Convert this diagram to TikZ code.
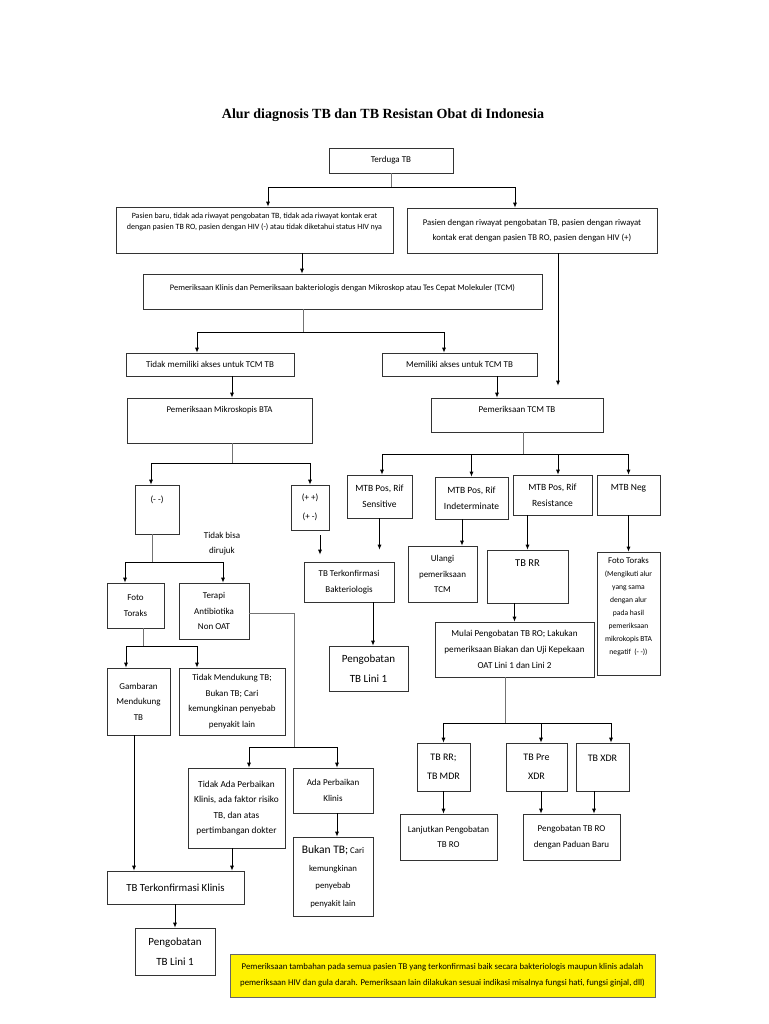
\documentclass[tikz,border=0pt]{standalone}
\usepackage{fontspec}
\setmainfont{Carlito}
\newfontfamily\titlefont{Liberation Serif}
\usetikzlibrary{arrows.meta,positioning}

\tikzset{
  box/.style={draw=black!80,line width=0.6pt,inner sep=1pt,align=center,
    font=\fontsize{9}{15.5}\selectfont},
  sz/.style 2 args={minimum width=#1pt,minimum height=#2pt},
  toptext/.style={anchor=base,yshift=-#1pt,inner sep=0pt,align=center},
  big/.style={font=\fontsize{11}{20}\selectfont},
  mtb/.style={font=\fontsize{9.5}{16}\selectfont},
  stem/.style={draw=black!55,line width=0.6pt},
  arr/.style={draw=black,line width=0.9pt,-{Latex[length=5pt,width=4pt]}},
}

\begin{document}
\begin{tikzpicture}[x=1pt,y=-1pt]
  \fill[white] (0,0) rectangle (768,1024);
  \useasboundingbox (0,0) rectangle (768,1024);

  \node[font=\titlefont\bfseries\fontsize{14}{16}\selectfont] (title) at (383,115)
    {Alur diagnosis TB dan TB Resistan Obat di Indonesia};

  % top part
  \node[box,sz={124}{25}] (terduga) at (391,160.5) {Terduga TB};
  \node[box,sz={277}{46},label={[toptext=23,font=\fontsize{8}{11}\selectfont]north:Pasien baru, tidak ada riwayat pengobatan TB, tidak ada riwayat kontak erat\\dengan pasien TB RO, pasien dengan HIV (-) atau tidak diketahui status HIV nya}] (baru) at (254.5,230) {};
  \node[box,sz={250}{45},font=\fontsize{8.75}{15}\selectfont] (riwayat) at (532,230.5)
    {Pasien dengan riwayat pengobatan TB, pasien dengan riwayat\\kontak erat dengan pasien TB RO, pasien dengan HIV (+)};
  \node[box,sz={399}{35},label={[toptext=17,font=\fontsize{8.4}{10}\selectfont]north:Pemeriksaan Klinis dan Pemeriksaan bakteriologis dengan Mikroskop atau Tes Cepat Molekuler (TCM)}] (klinis) at (342.5,291.5) {};
  \node[box,sz={168}{23}] (tidakakses) at (210,364.5) {Tidak memiliki akses untuk TCM TB};
  \node[box,sz={155}{23}] (akses) at (459.5,364.5) {Memiliki akses untuk TCM TB};
  \node[box,sz={185}{45},label={[toptext=15,font=\fontsize{8.8}{10}\selectfont]north:Pemeriksaan Mikroskopis BTA}] (mikro) at (219.5,420.5) {};
  \node[box,sz={172}{34},label={[toptext=15,font=\fontsize{9}{10}\selectfont]north:Pemeriksaan TCM TB}] (tcm) at (517,415) {};

  % TCM results
  \node[box,mtb,sz={65}{43}] (sens) at (379.5,496.5) {MTB Pos, Rif\\Sensitive};
  \node[box,mtb,sz={73}{42}] (indet) at (471.5,498) {MTB Pos, Rif\\Indeterminate};
  \node[box,mtb,sz={79}{40}] (resist) at (552.5,495) {MTB Pos, Rif\\Resistance};
  \node[box,sz={63}{40},label={[toptext=16,font=\fontsize{9.5}{10}\selectfont]north:MTB Neg}] (neg) at (628.5,495) {};
  \node[box,sz={69}{56}] (ulangi) at (442.5,574) {Ulangi\\pemeriksaan\\TCM};
  \node[box,sz={81}{53},label={[toptext=17,font=\fontsize{10.5}{12}\selectfont]north:TB RR}] (tbrr) at (527.5,576.5) {};
  \node[box,sz={159}{55},font=\fontsize{9.1}{16}\selectfont] (mulai) at (514.5,649.5)
    {Mulai Pengobatan TB RO; Lakukan\\pemeriksaan Biakan dan Uji Kepekaan\\OAT Lini 1 dan Lini 2};
  \node[box,sz={63}{123},label={[anchor=north,yshift=-5pt,inner sep=0pt,align=center,font=\fontsize{7.6}{13}\selectfont]north:{\fontsize{8.8}{13}\selectfont Foto Toraks}\\(Mengikuti alur\\yang sama\\dengan alur\\pada hasil\\pemeriksaan\\mikrokopis BTA\\negatif~~(- -))}] (fotoR) at (628.5,613.5) {};
  \node[box,sz={53}{48},font=\fontsize{10}{19}\selectfont] (mdr) at (443.5,767) {TB RR;\\TB MDR};
  \node[box,sz={61}{48},font=\fontsize{10}{19}\selectfont] (prexdr) at (536.5,767) {TB Pre\\XDR};
  \node[box,sz={53}{48},label={[toptext=19,font=\fontsize{10}{12}\selectfont]north:TB XDR}] (xdr) at (602.5,767) {};
  \node[box,sz={97}{46}] (lanjut) at (448.5,837) {Lanjutkan Pengobatan\\TB RO};
  \node[box,sz={97}{46}] (paduan) at (571.5,837) {Pengobatan TB RO\\dengan Paduan Baru};

  % BTA results
  \node[box,sz={44}{49},label={[toptext=18,font=\fontsize{9}{10}\selectfont]north:(- -)}] (minus) at (157,509.5) {};
  \node[box,sz={38}{45},font=\fontsize{9}{19}\selectfont] (plus) at (310,507.5) {(+ +)\\(+ -)};
  \node[box,sz={90}{40}] (bakt) at (349,582) {TB Terkonfirmasi\\Bakteriologis};
  \node[box,big,sz={79}{45}] (lini1R) at (368.5,668.5) {Pengobatan\\TB Lini 1};
  \node[align=center,font=\fontsize{9}{15}\selectfont] (rujuk) at (222,543.5) {Tidak bisa\\dirujuk};
  \node[box,sz={57}{45}] (fotoL) at (135.5,605.5) {Foto\\Toraks};
  \node[box,sz={70}{56}] (terapi) at (214,611) {Terapi\\Antibiotika\\Non OAT};
  \node[box,sz={63}{67}] (gamb) at (138.5,701.5) {Gambaran\\Mendukung\\TB};
  \node[box,sz={106}{67}] (tidakmend) at (232,701.5) {Tidak Mendukung TB;\\Bukan TB; Cari\\kemungkinan penyebab\\penyakit lain};
  \node[box,sz={97}{80},font=\fontsize{9.3}{15.5}\selectfont] (tidakada) at (236.5,808) {Tidak Ada Perbaikan\\Klinis, ada faktor risiko\\TB, dan atas\\pertimbangan dokter};
  \node[box,sz={80}{45}] (adaperb) at (333,790.5) {Ada Perbaikan\\Klinis};
  \node[box,sz={80}{79},font=\fontsize{8.8}{17.5}\selectfont] (bukan) at (333,876.5) {{\fontsize{11.5}{17.5}\selectfont Bukan TB;} Cari\\kemungkinan\\penyebab\\penyakit lain};
  \node[box,sz={137}{33},font=\fontsize{10.8}{12}\selectfont] (klinisTB) at (175.5,887.5) {TB Terkonfirmasi Klinis};
  \node[box,big,sz={80}{47}] (lini1L) at (175,951.5) {Pengobatan\\TB Lini 1};

  \node[box,sz={425}{43},fill=yellow,draw=black!60,font=\fontsize{8.8}{16}\selectfont] (note) at (442.5,975.5)
    {Pemeriksaan tambahan pada semua pasien TB yang terkonfirmasi baik secara bakteriologis maupun klinis adalah\\pemeriksaan HIV dan gula darah. Pemeriksaan lain dilakukan sesuai indikasi misalnya fungsi hati, fungsi ginjal, dll)};

  % connectors, top
  \draw[stem] (terduga.south) -- ++(0,14) coordinate (t1);
  \draw[arr] (t1) -| ([xshift=13.5pt]baru.north);
  \draw[arr] (t1) -| ([xshift=-17pt]riwayat.north);
  \draw[arr] ([xshift=47.5pt]baru.south) -- ([xshift=47.5pt]baru.south |- klinis.north);
  \draw[arr,shorten >=12pt] ([xshift=26pt]riwayat.south) -- ([xshift=26pt]riwayat.south |- tcm.north);
  \draw[stem] ([xshift=-39.5pt]klinis.south) -- ++(0,23) coordinate (k1);
  \draw[arr] (k1) -| ([xshift=-13pt]tidakakses.north);
  \draw[arr] (k1) -| ([xshift=-15.5pt]akses.north);
  \draw[arr] ([xshift=22pt]tidakakses.south) -- ([xshift=22pt]tidakakses.south |- mikro.north);
  \draw[arr] ([xshift=37.5pt]akses.south) -- ([xshift=37.5pt]akses.south |- tcm.north);

  % TCM branch
  \draw[stem] ([xshift=6pt]tcm.south) -- ++(0,22) coordinate (c1);
  \draw[arr] (c1) -| ([xshift=2.5pt]sens.north);
  \draw[arr] (c1) -| (indet.north);
  \draw[arr] (c1) -| ([xshift=5.5pt]resist.north);
  \draw[arr] (c1) -| (neg.north);
  \draw[arr,shorten >=12pt] (sens.south) -- (sens.south |- bakt.north);
  \draw[arr] ([xshift=-9.5pt]indet.south) -- ([xshift=-9.5pt]indet.south |- ulangi.north);
  \draw[arr] (tbrr.north |- resist.south) -- (tbrr.north);
  \draw[arr] (mulai.north |- tbrr.south) -- (mulai.north);
  \draw[arr] (neg.south) -- (fotoR.north);
  \draw[stem] ([xshift=-9.5pt]mulai.south) -- ++(0,46) coordinate (m1);
  \draw[arr] (m1) -| (mdr.north);
  \draw[arr] (m1) -| ([xshift=4.5pt]prexdr.north);
  \draw[arr] (m1) -| ([xshift=8.5pt]xdr.north);
  \draw[arr] (mdr.south) -- (mdr.south |- lanjut.north);
  \draw[arr] ([xshift=4.5pt]prexdr.south) -- ([xshift=4.5pt]prexdr.south |- paduan.north);
  \draw[arr] ([xshift=-8.5pt]xdr.south) -- ([xshift=-8.5pt]xdr.south |- paduan.north);

  % BTA branch
  \draw[stem] ([xshift=12.5pt]mikro.south) -- ++(0,20) coordinate (b1);
  \draw[arr] (b1) -| ([xshift=-6pt]minus.north);
  \draw[arr] (b1) -| (plus.north);
  \draw[arr,shorten <=5pt,shorten >=7pt] ([xshift=10pt]plus.south) -- ([xshift=10pt]plus.south |- bakt.north);
  \draw[arr] ([xshift=4.5pt]lini1R.north |- bakt.south) -- ([xshift=4.5pt]lini1R.north);
  \draw[stem] ([xshift=-5pt]minus.south) -- ++(0,28) coordinate (b2);
  \draw[arr] (b2) -| ([xshift=-10.5pt]fotoL.north);
  \draw[arr] (b2) -| ([xshift=9pt]terapi.north);
  \draw[stem] ([xshift=7.5pt]fotoL.south) -- ++(0,18) coordinate (b3);
  \draw[arr] (b3) -| ([xshift=-12.5pt]gamb.north);
  \draw[arr] (b3) -| ([xshift=-35pt]tidakmend.north);
  \coordinate (b4) at (294,747);
  \draw[stem] ([yshift=-2pt]terapi.east) -| (b4);
  \draw[arr] (b4) -| ([xshift=12.5pt]tidakada.north);
  \draw[arr] (b4) -| ([xshift=4pt]adaperb.north);
  \draw[arr] ([xshift=4pt]adaperb.south) -- ([xshift=4pt]adaperb.south |- bukan.north);
  \draw[arr] ([xshift=-4.5pt]gamb.south) -- ([xshift=-4.5pt]gamb.south |- klinisTB.north);
  \draw[arr] ([xshift=-4.5pt]tidakada.south) -- ([xshift=-4.5pt]tidakada.south |- klinisTB.north);
  \draw[arr] (lini1L.north |- klinisTB.south) -- (lini1L.north);
\end{tikzpicture}
\end{document}
